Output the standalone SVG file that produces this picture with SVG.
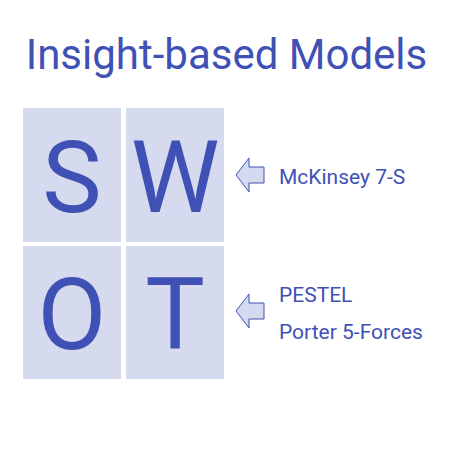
<svg xmlns="http://www.w3.org/2000/svg" width="453" height="453" viewBox="0 0 453 453">
<style>
.t{font-family:Roboto,"Liberation Sans",sans-serif;fill:#3F51B5}
.cell{fill:#D6DAEE}
.big{font-size:100px;text-anchor:middle}
.lbl{font-size:21px}
.arr{fill:#D6DAEE;stroke:#3F51B5;stroke-width:1}
</style>
<rect width="453" height="453" fill="#ffffff"/>
<text class="t" x="226.5" y="69" font-size="42" text-anchor="middle">Insight-based Models</text>
<g id="S"><rect class="cell" x="23" y="108" width="98" height="134"/><text class="t big" x="72" y="212">S</text></g>
<g id="W"><rect class="cell" x="126" y="108" width="98" height="134"/><text class="t big" x="175" y="212">W</text></g>
<g id="O"><rect class="cell" x="23" y="246" width="98" height="133"/><text class="t big" x="72" y="349">O</text></g>
<g id="T"><rect class="cell" x="126" y="246" width="98" height="133"/><text class="t big" x="175" y="349">T</text></g>
<g id="connectors">
<polygon class="arr" points="236,175 249,158 249,167 264,167 264,183 249,183 249,192"/>
<polygon class="arr" points="236,311 249,294 249,303 264,303 264,319 249,319 249,328"/>
</g>
<g id="labels">
<text class="t lbl" x="279" y="184">McKinsey 7-S</text>
<text class="t lbl" x="279" y="302">PESTEL</text>
<text class="t lbl" x="279" y="339">Porter 5-Forces</text>
</g>
</svg>
